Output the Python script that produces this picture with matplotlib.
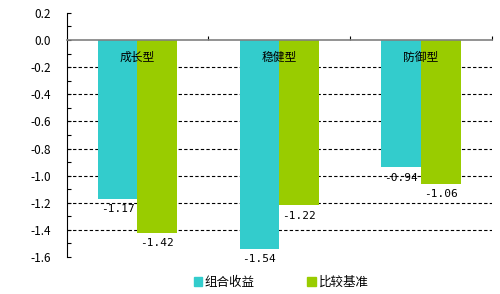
import matplotlib.pyplot as plt
import numpy as np
from matplotlib.ticker import MultipleLocator, FormatStrFormatter
from matplotlib.patches import Patch

plt.rcParams['font.family'] = ['Noto Sans CJK SC', 'DejaVu Sans']
plt.rcParams['axes.unicode_minus'] = False

categories = ['成长型', '稳健型', '防御型']
portfolio = [-1.17, -1.54, -0.94]
benchmark = [-1.42, -1.22, -1.06]
series_names = ['组合收益', '比较基准']

cyan = '#33CCCC'
green = '#99CC00'

fig = plt.figure(figsize=(5, 2.94), dpi=100)
ax = fig.add_axes([0.133, 0.126, 0.851, 0.830])

x = np.arange(len(categories))
w = 0.28
ax.bar(x - w / 2, portfolio, w, color=cyan, zorder=2)
ax.bar(x + w / 2, benchmark, w, color=green, zorder=2)

for xi, v in zip(x - w / 2, portfolio):
    ax.text(xi, v - 0.04, '%.2f' % v, ha='center', va='top', fontsize=8,
            family='DejaVu Sans Mono', zorder=3)
for xi, v in zip(x + w / 2, benchmark):
    ax.text(xi, v - 0.04, '%.2f' % v, ha='center', va='top', fontsize=8,
            family='DejaVu Sans Mono', zorder=3)
for xi, c in zip(x, categories):
    ax.text(xi, -0.13, c, ha='center', va='center', fontsize=8.5, zorder=3)

ax.set_xlim(-0.5, 2.5)
ax.set_ylim(-1.6, 0.2)
ax.yaxis.set_major_locator(MultipleLocator(0.2))
ax.yaxis.set_minor_locator(MultipleLocator(0.1))
ax.yaxis.set_major_formatter(FormatStrFormatter('%.1f'))
ax.tick_params(axis='y', which='both', direction='in', length=3, width=0.8,
               labelsize=8.5, pad=11)

for g in np.arange(-0.2, -1.5, -0.2):
    ax.axhline(g, color='black', lw=0.8, ls=(0, (3, 2)), zorder=1)

ax.spines['top'].set_visible(False)
ax.spines['right'].set_visible(False)
ax.spines['bottom'].set_position(('data', 0))
ax.spines['bottom'].set_color('#808080')
ax.spines['bottom'].set_linewidth(1.2)
ax.spines['bottom'].set_zorder(3)
ax.set_xticks([0.5, 1.5, 2.5])
ax.set_xticklabels([])
ax.tick_params(axis='x', direction='in', length=3, color='black')

handles = [Patch(color=cyan), Patch(color=green)]
fig.legend(handles, series_names, loc='lower center', ncol=2, frameon=False,
           bbox_to_anchor=(0.562, -0.02), handlelength=0.7, handleheight=0.7,
           handletextpad=0.2, columnspacing=4.2, fontsize=9)

fig.savefig('out.png', dpi=100)
